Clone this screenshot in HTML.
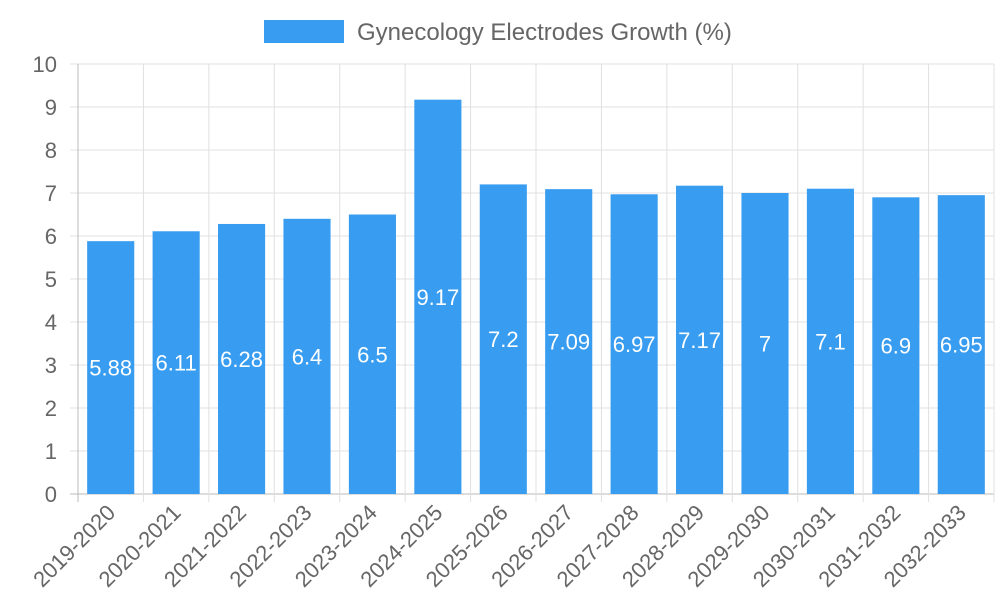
<!DOCTYPE html>
<html><head><meta charset="utf-8"><style>
html,body{margin:0;padding:0;background:#fff;}
svg{display:block;font-family:"Liberation Sans",sans-serif;}
</style></head><body>
<svg id="chart" width="1000" height="600">
  <g>
    <rect x="264" y="20" width="80" height="23" fill="#389cf0"></rect>
    <text x="357" y="40" font-size="24" fill="#666">Gynecology Electrodes Growth (%)</text>
  </g>
  <g id="grid"></g>
  <g id="bars"></g>
  <g id="labels"></g>
  <g id="axes"></g>
</svg>
<script>
const categories = ["2019-2020","2020-2021","2021-2022","2022-2023","2023-2024","2024-2025","2025-2026","2026-2027","2027-2028","2028-2029","2029-2030","2030-2031","2031-2032","2032-2033"];
const values = [5.88,6.11,6.28,6.4,6.5,9.17,7.2,7.09,6.97,7.17,7,7.1,6.9,6.95];
const yTicks = [0,1,2,3,4,5,6,7,8,9,10];

const SVGNS = "http://www.w3.org/2000/svg";
const plotLeft = 78, plotRight = 994, plotTop = 64, plotBottom = 494, yMax = 10;
const band = (plotRight - plotLeft) / categories.length;
const barW = band * 0.72;
function yScale(v){ return plotBottom - (v / yMax) * (plotBottom - plotTop); }
function xBand(i){ return plotLeft + i * band; }
function mk(tag, attrs, parent){
  const e = document.createElementNS(SVGNS, tag);
  for (const k in attrs) e.setAttribute(k, attrs[k]);
  parent.appendChild(e);
  return e;
}
const gridG = document.getElementById('grid');
const barsG = document.getElementById('bars');
const labelsG = document.getElementById('labels');
const axesG = document.getElementById('axes');

yTicks.forEach(t => {
  const y = yScale(t);
  const l = mk('line', {x1: plotLeft - 8, x2: plotRight, y1: y, y2: y, stroke: t === 0 ? '#bbb' : '#e0e0e0', 'stroke-width': 1}, gridG);
  
  
  const tx = mk('text', {x: plotLeft - 21, y: y + 8, 'font-size': 22, fill: '#666', 'text-anchor': 'end'}, axesG);
  tx.textContent = t;
  
  
});
for (let i = 0; i <= categories.length; i++) {
  const x = xBand(i);
  const l = mk('line', {x1: x, x2: x, y1: plotTop, y2: plotBottom + 8, stroke: i === 0 ? '#bbb' : '#e0e0e0', 'stroke-width': 1}, gridG);
  
  
}
categories.forEach((c, i) => {
  const cx = xBand(i) + band / 2;
  const y = yScale(values[i]);
  const r = mk('rect', {x: cx - barW / 2, y: y, width: barW, height: plotBottom - y, fill: '#389cf0'}, barsG);
  
  
  const v = mk('text', {x: cx, y: (y + plotBottom) / 2 + 8, 'font-size': 22, fill: '#fff', 'text-anchor': 'middle'}, labelsG);
  v.textContent = values[i];
  
  
  const t = mk('text', {x: 0, y: 0, 'font-size': 22, fill: '#666', 'text-anchor': 'end', transform: 'translate(' + (cx + 6) + ',' + (plotBottom + 20) + ') rotate(-45)'}, axesG);
  t.textContent = c;
  
  
});
</script>
</body></html>
